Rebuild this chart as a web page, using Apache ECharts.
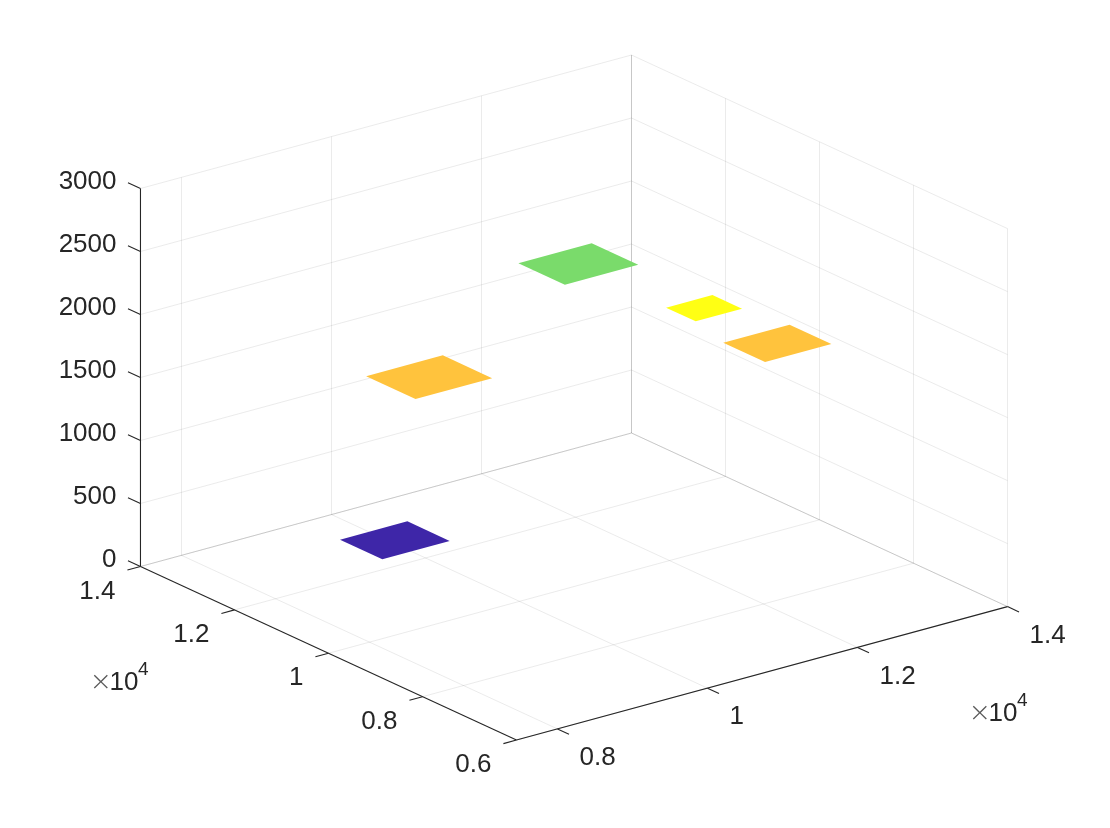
<!DOCTYPE html>
<html>
<head>
<meta charset="utf-8">
<style>
  html, body { margin: 0; padding: 0; background: #fff; }
  #chart { width: 1110px; height: 828px; }
</style>
<script src="https://cdn.jsdelivr.net/npm/echarts@6/dist/echarts.min.js"></script>
</head>
<body>
<div id="chart"></div>
<script>
// axis ranges and ticks, in data units
const xRange = [7453, 14000];
const yRange = [6000, 14000];
const zRange = [0, 3000];
const xTicks = [8000, 10000, 12000, 14000];
const yTicks = [6000, 8000, 10000, 12000, 14000];
const zTicks = [0, 500, 1000, 1500, 2000, 2500, 3000];
const xTickLabels = ['0.8', '1', '1.2', '1.4'];
const yTickLabels = ['0.6', '0.8', '1', '1.2', '1.4'];
const zTickLabels = ['0', '500', '1000', '1500', '2000', '2500', '3000'];

// the flat patches
const patchXMin = [8928, 7996, 12242, 11072, 11602];
const patchXMax = [9826, 9018, 13220, 11690, 12486];
const patchYMin = [11208, 9015, 12612, 7962, 7331];
const patchYMax = [12108, 10065, 13602, 8592, 8221];
const patchZ = [300, 2100, 1700, 2400, 2100];
const patchColors = ['#3e26a8', '#ffc33d', '#7adb6b', '#ffff14', '#ffc33d'];

// orthographic view, az/el of the original plot
const origin = [631.5, 433]; // screen position of (xmax, ymax, 0)
const ex = [0.075, -0.02039];
const ey = [-0.047, -0.0217];
const ez = [0, -0.126];

function project(x, y, z) {
  const a = x - xRange[1];
  const b = y - yRange[1];
  return [
    origin[0] + a * ex[0] + b * ey[0] + z * ez[0],
    origin[1] + a * ex[1] + b * ey[1] + z * ez[1]
  ];
}

const gridLines = [];
xTicks.forEach(function (x) {
  gridLines.push([x, yRange[0], 0, x, yRange[1], 0]);
  gridLines.push([x, yRange[1], 0, x, yRange[1], zRange[1]]);
});
yTicks.forEach(function (y) {
  gridLines.push([xRange[0], y, 0, xRange[1], y, 0]);
  gridLines.push([xRange[1], y, 0, xRange[1], y, zRange[1]]);
});
zTicks.forEach(function (z) {
  gridLines.push([xRange[0], yRange[1], z, xRange[1], yRange[1], z]);
  gridLines.push([xRange[1], yRange[1], z, xRange[1], yRange[0], z]);
});
// back edges of the box read darker in the original
gridLines.push([xRange[0], yRange[1], 0, xRange[1], yRange[1], 0]);
gridLines.push([xRange[1], yRange[1], 0, xRange[1], yRange[0], 0]);
gridLines.push([xRange[1], yRange[1], 0, xRange[1], yRange[1], zRange[1]]);

const axisLines = [
  [xRange[0], yRange[0], 0, xRange[1], yRange[0], 0],
  [xRange[0], yRange[0], 0, xRange[0], yRange[1], 0],
  [xRange[0], yRange[1], 0, xRange[0], yRange[1], zRange[1]]
];
// tick marks stick out along the other floor direction
xTicks.forEach(function (x) { axisLines.push([x, yRange[0], 0, x, yRange[0] - 245, 0]); });
yTicks.forEach(function (y) { axisLines.push([xRange[0], y, 0, xRange[0] - 174, y, 0]); });
zTicks.forEach(function (z) { axisLines.push([xRange[0], yRange[1], z, xRange[0], yRange[1] + 266, z]); });

const tickTexts = [];
xTicks.forEach(function (x, i) { tickTexts.push([x, yRange[0], 0, xTickLabels[i], 'left', 22, 29]); });
yTicks.forEach(function (y, i) { tickTexts.push([xRange[0], y, 0, yTickLabels[i], 'right', -25, 25]); });
zTicks.forEach(function (z, i) { tickTexts.push([xRange[0], yRange[1], z, zTickLabels[i], 'right', -24, -7]); });

const gridOrAxis = { grid: gridLines, axis: axisLines };

function lineItem(params, api) {
  const d = gridOrAxis[params.seriesName][params.dataIndex];
  const p0 = api.coord(project(d[0], d[1], d[2]));
  const p1 = api.coord(project(d[3], d[4], d[5]));
  return {
    type: 'line',
    shape: { x1: p0[0], y1: p0[1], x2: p1[0], y2: p1[1] },
    style: {
      stroke: params.seriesName === 'grid' ? 'rgba(38,38,38,0.09)' : '#262626',
      lineWidth: params.seriesName === 'grid' ? 1 : 1.1
    }
  };
}

function patchItem(params, api) {
  const i = params.dataIndex;
  const corners = [
    [patchXMin[i], patchYMax[i]],
    [patchXMax[i], patchYMax[i]],
    [patchXMax[i], patchYMin[i]],
    [patchXMin[i], patchYMin[i]]
  ].map(function (c) {
    return api.coord(project(c[0], c[1], patchZ[i]));
  });
  return {
    type: 'polygon',
    shape: { points: corners },
    style: { fill: patchColors[i] }
  };
}

function textItem(params, api) {
  const t = tickTexts[params.dataIndex];
  const p = api.coord(project(t[0], t[1], t[2]));
  return {
    type: 'text',
    x: p[0] + t[5],
    y: p[1] + t[6],
    style: {
      text: t[3],
      fill: '#262626',
      font: '26px "Liberation Sans", Arial, sans-serif',
      align: t[4],
      verticalAlign: 'middle'
    }
  };
}

// "x10^4" next to the x and y axes, hung off the axis midpoints
const exponentAnchors = [
  [xRange[0], 10000, 0, -239, 43],
  [10000, yRange[0], 0, 261, 39]
];

function exponentItem(params, api) {
  const e = exponentAnchors[params.dataIndex];
  const p = api.coord(project(e[0], e[1], e[2]));
  const x = p[0] + e[3];
  const y = p[1] + e[4];
  return {
    type: 'group',
    children: [
      { type: 'text', x: x, y: y, style: { text: '×', fill: '#5a5a5a', font: '300 27px "DejaVu Sans", sans-serif', align: 'left', verticalAlign: 'bottom' } },
      { type: 'text', x: x + 20, y: y, style: { text: '10', fill: '#262626', font: '26px "Liberation Sans", Arial, sans-serif', align: 'left', verticalAlign: 'bottom' } },
      { type: 'text', x: x + 48.5, y: y - 17, style: { text: '4', fill: '#262626', font: '19px "Liberation Sans", Arial, sans-serif', align: 'left', verticalAlign: 'bottom' } }
    ]
  };
}

function idx(arr) {
  return arr.map(function (v, i) { return [i]; });
}

const chart = echarts.init(document.getElementById('chart'));
chart.setOption({
  animation: false,
  backgroundColor: '#fff',
  grid: { left: 0, right: 0, top: 0, bottom: 0 },
  xAxis: { type: 'value', min: 0, max: 1110, show: false },
  yAxis: { type: 'value', min: 0, max: 828, inverse: true, show: false },
  series: [
    { name: 'grid', type: 'custom', silent: true, renderItem: lineItem, data: idx(gridLines), z: 1 },
    { name: 'patches', type: 'custom', silent: true, renderItem: patchItem, data: idx(patchZ), z: 2 },
    { name: 'axis', type: 'custom', silent: true, renderItem: lineItem, data: idx(axisLines), z: 3 },
    { name: 'ticks', type: 'custom', silent: true, renderItem: textItem, data: idx(tickTexts), z: 4 },
    { name: 'exponent', type: 'custom', silent: true, renderItem: exponentItem, data: idx(exponentAnchors), z: 4 }
  ]
});
</script>
</body>
</html>
